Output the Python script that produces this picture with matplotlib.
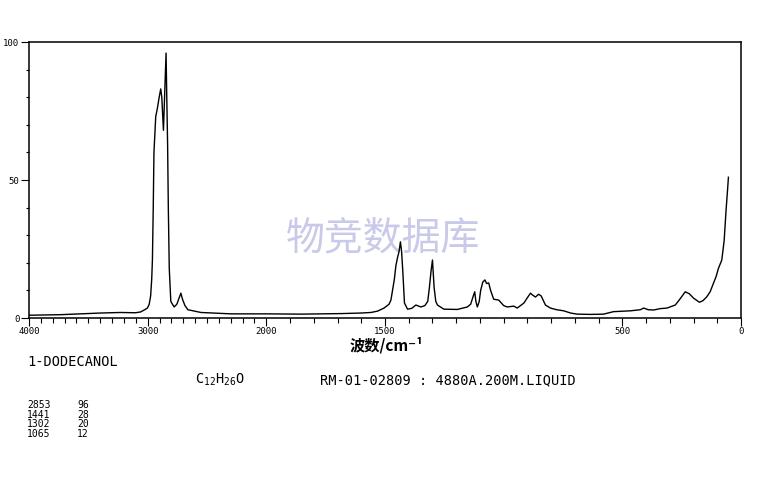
import numpy as np
import matplotlib
matplotlib.use("Agg")
import matplotlib.pyplot as plt

# Raman spectrum of 1-dodecanol
wavenumber = [
    4000, 3737, 3398, 3229, 3102, 3059, 3025, 3002, 2987, 2975, 2966, 2960,
    2953, 2947, 2932, 2918, 2903, 2890, 2881, 2867, 2856, 2845, 2839, 2832,
    2826, 2818, 2805, 2777, 2754, 2733, 2720, 2708, 2686, 2661, 2551, 2297,
    2000, 1853, 1685, 1601, 1559, 1531, 1504, 1483, 1475, 1461, 1454, 1447,
    1441, 1435, 1430, 1425, 1418, 1405, 1387, 1370, 1349, 1332, 1320, 1313,
    1306, 1300, 1293, 1286, 1279, 1252, 1195, 1153, 1139, 1128, 1122, 1117,
    1111, 1103, 1097, 1088, 1079, 1072, 1063, 1055, 1042, 1021, 1000, 985,
    957, 943, 915, 899, 887, 878, 866, 853, 842, 824, 803, 777, 747, 718,
    690, 634, 579, 537, 466, 424, 410, 391, 368, 340, 312, 277, 256, 235,
    218, 200, 175, 160, 144, 130, 116, 105, 95, 81, 71, 63, 57, 53,
]
intensity = [
    1.0, 1.2, 1.8, 2.0, 1.9, 2.2, 3.0, 3.6, 5.0, 8.0, 14, 21,
    40, 60, 73, 76, 80, 83, 80, 68, 82, 96, 80, 63,
    40, 18, 6.0, 4.0, 5.0, 7.5, 9.0, 7.0, 4.5, 3.0, 2.0, 1.5,
    1.5, 1.4, 1.6, 1.8, 2.0, 2.5, 3.6, 5.0, 6.5, 13.8, 19, 22,
    24, 27.6, 24, 17, 5.4, 3.2, 3.5, 4.7, 4.0, 4.5, 6.0, 11,
    17, 21, 11, 6.0, 4.7, 3.2, 3.1, 4.0, 5.0, 8.0, 9.5, 6.0,
    4.0, 6.0, 10, 13, 13.8, 12.5, 12.7, 10, 6.8, 6.5, 4.5, 4.0,
    4.3, 3.6, 5.4, 7.5, 9.0, 8.3, 7.6, 8.6, 8.0, 4.7, 3.6, 3.0, 2.6, 1.8,
    1.4, 1.3, 1.4, 2.3, 2.6, 3.0, 3.6, 3.0, 2.9, 3.4, 3.6, 4.7, 7.0, 9.5,
    8.8, 7.2, 5.7, 6.3, 7.7, 9.5, 12.6, 15, 18, 21, 28, 39, 46, 51,
]

x_major = [4000, 3000, 2000, 1500, 500, 0]
x_labels = ["4000", "3000", "2000", "1500", "500", "0"]
y_major = [0, 50, 100]

compound = "1-DODECANOL"
formula = r"C$_{12}$H$_{26}$O"
sample_info = "RM-01-02809 : 4880A.200M.LIQUID"
peak_pos = ["2853", "1441", "1302", "1065"]
peak_int = ["96", "28", "20", "12"]
watermark = "物竞数据库"

mono = "DejaVu Sans Mono"
plt.rcParams["mathtext.fontset"] = "custom"
plt.rcParams["mathtext.rm"] = mono
plt.rcParams["mathtext.it"] = mono
plt.rcParams["mathtext.default"] = "rm"


# wavenumber axis is compressed 2:1 above 2000 cm-1
def fwd(x):
    x = np.asarray(x, dtype=float)
    return np.where(x <= 2000, x, 2000 + (x - 2000) / 2)


def inv(u):
    u = np.asarray(u, dtype=float)
    return np.where(u <= 2000, u, 2000 + (u - 2000) * 2)


fig = plt.figure(figsize=(7.65, 4.79), dpi=100)
ax = fig.add_axes([29 / 765, 161 / 479, 712 / 765, 276 / 479])
ax.set_xscale("function", functions=(fwd, inv))
ax.plot(wavenumber, intensity, color="black", lw=1.0, zorder=3)
ax.set_xlim(4000, 0)
ax.set_ylim(0, 100)

ax.set_xticks(x_major)
ax.set_xticklabels(x_labels, family=mono, fontsize=6.5)
ax.set_xticks(np.arange(0, 4001, 100), minor=True)
ax.set_yticks(y_major)
ax.set_yticklabels([str(v) for v in y_major], family=mono, fontsize=6.5)
ax.set_yticks(np.arange(0, 101, 10), minor=True)
ax.tick_params(axis="both", which="both", direction="out", width=0.8, color="black")
ax.tick_params(axis="x", which="major", length=5.5, pad=1)
ax.tick_params(axis="x", which="minor", length=3.5)
ax.tick_params(axis="y", which="major", length=6, pad=1)
ax.tick_params(axis="y", which="minor", length=2.5)
for sp in ax.spines.values():
    sp.set_linewidth(1.1)

# watermark sits behind the spectrum line
ax.text(383 / 765, 1 - 239 / 479, watermark, transform=fig.transFigure,
        ha="center", va="center", fontsize=28, color="#c9c9ea",
        family="Noto Sans CJK SC", zorder=1)

fig.text(386 / 765, 1 - 345 / 479, "波数/cm⁻¹", ha="center", va="center",
         fontsize=11, fontweight="bold", family=["Noto Sans CJK SC", "DejaVu Sans"])

fig.text(27 / 765, 1 - 362 / 479, compound, ha="left", va="center",
         fontsize=9.8, family=mono)
fig.text(195 / 765, 1 - 380 / 479, formula, ha="left", va="center",
         fontsize=9.8, family=mono)
fig.text(320 / 765, 1 - 380 / 479, sample_info, ha="left", va="center",
         fontsize=9.8, family=mono)

for i, (p, v) in enumerate(zip(peak_pos, peak_int)):
    y = 1 - (405 + 9.7 * i) / 479
    fig.text(27 / 765, y, p, ha="left", va="center", fontsize=7, family=mono)
    fig.text(77 / 765, y, v, ha="left", va="center", fontsize=7, family=mono)

fig.savefig("out.png", dpi=100)
